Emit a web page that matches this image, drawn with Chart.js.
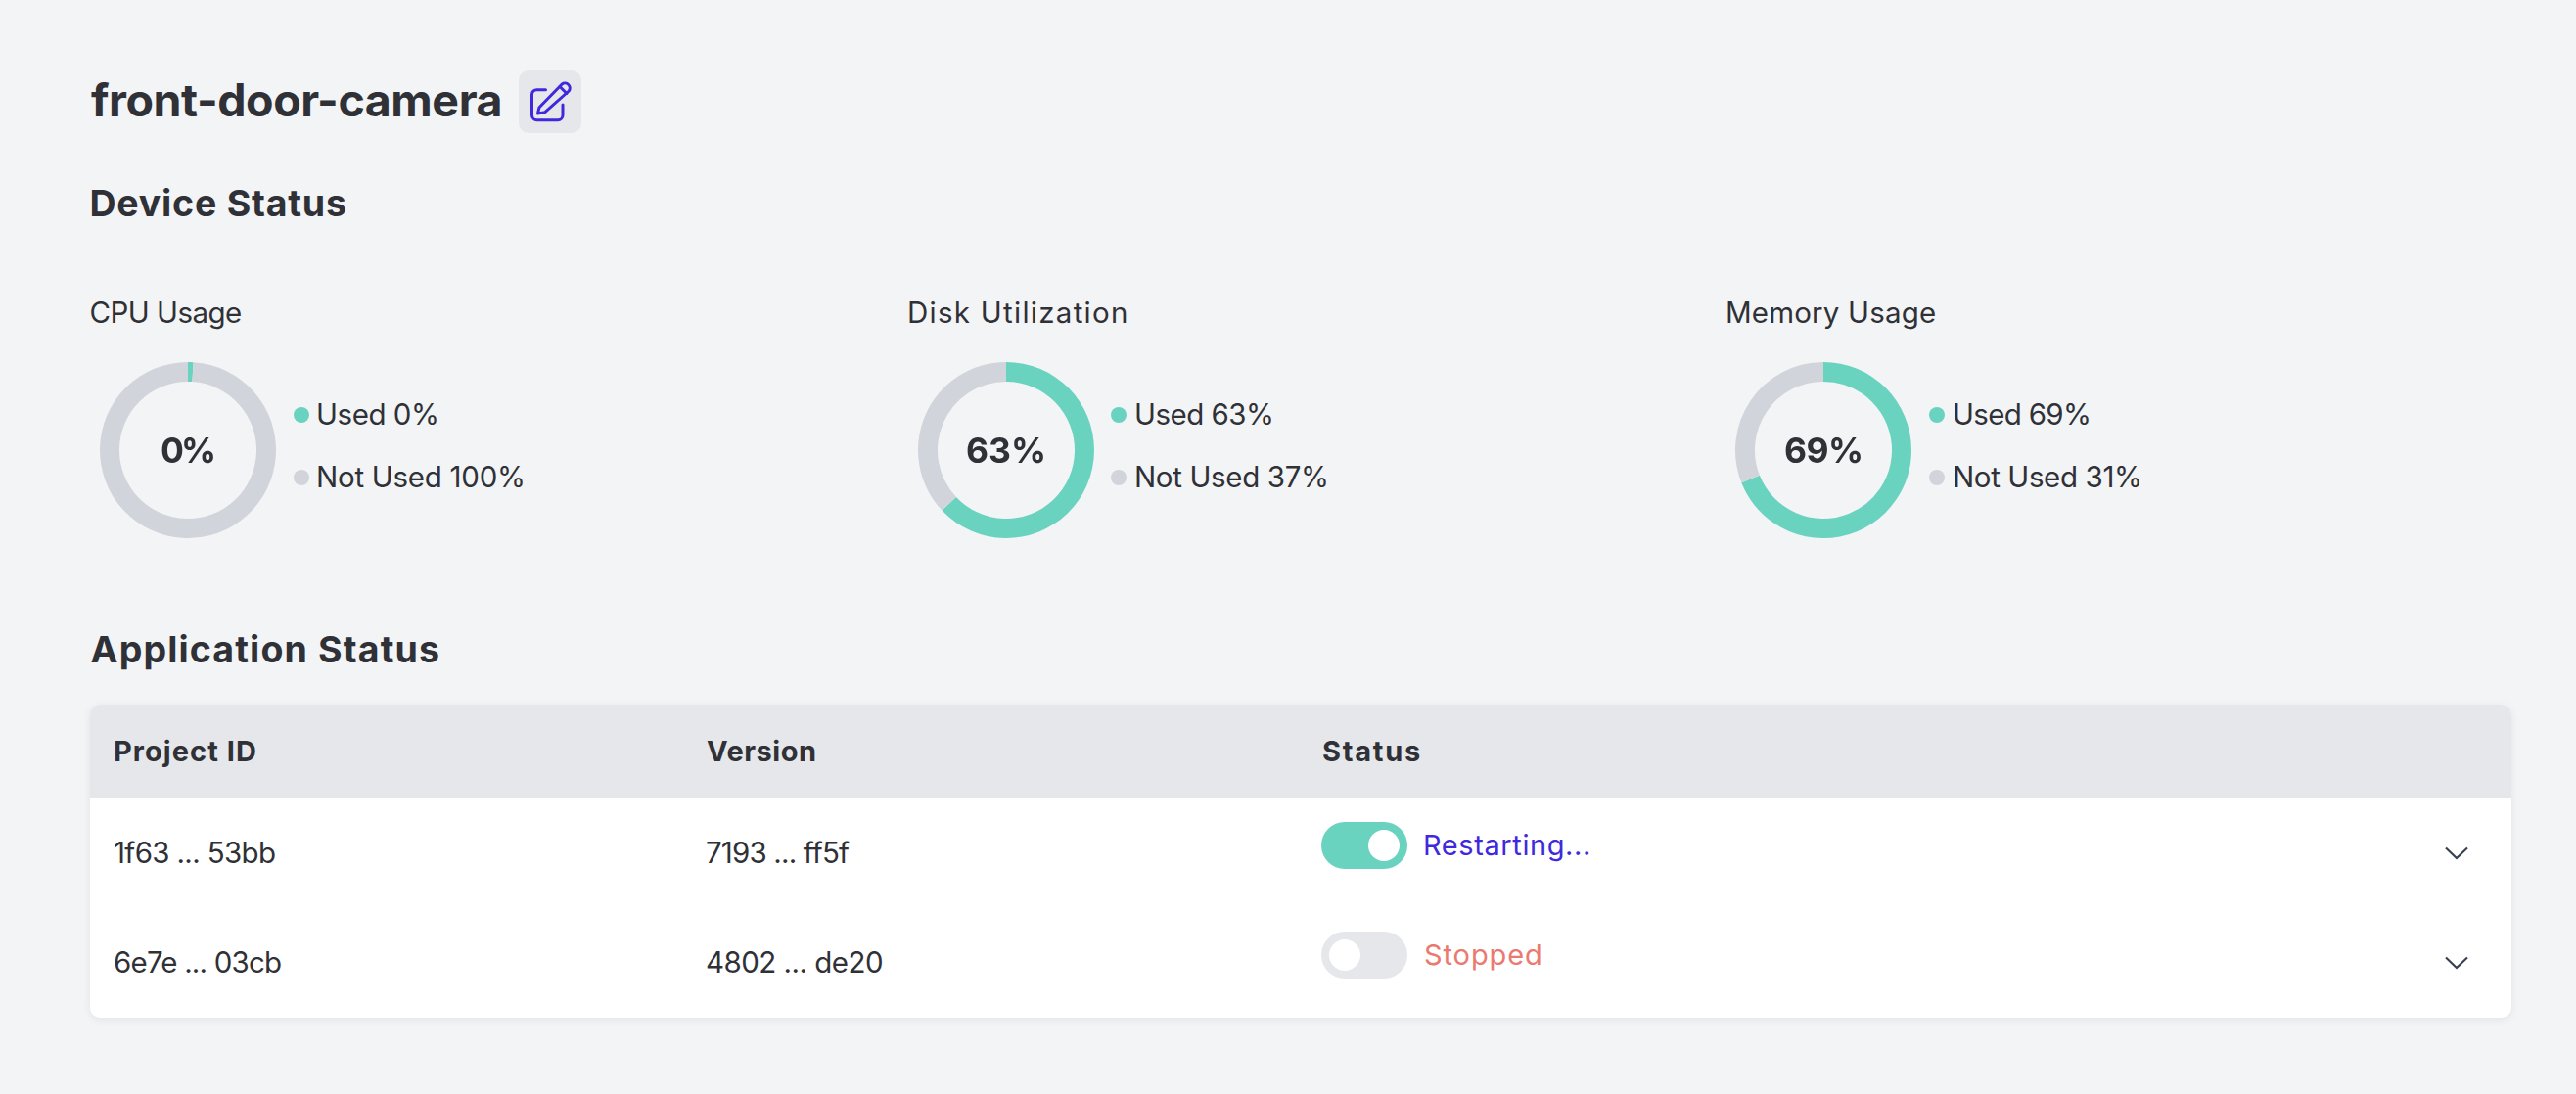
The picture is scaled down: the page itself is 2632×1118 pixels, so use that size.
<!DOCTYPE html>
<html><head><meta charset="utf-8">
<script src="https://cdn.jsdelivr.net/npm/chart.js@4"></script>
<style>
html,body{margin:0;padding:0;width:2632px;height:1118px;background:#f3f4f6;overflow:hidden}
#stage{position:relative;width:2632px;height:1118px;overflow:hidden}
.t{position:absolute;white-space:pre;line-height:1.2}
.abs{position:absolute}
#btn{left:530px;top:72px;width:64px;height:64px;border-radius:10px;background:#e5e7eb}
#card{left:92px;top:720px;width:2474px;height:320px;border-radius:10px;background:#fff;box-shadow:0 2px 8px rgba(0,0,0,.07);overflow:hidden}
#head{left:0;top:0;width:100%;height:96px;background:#e5e7eb}
.dot{width:16px;height:16px;border-radius:50%}
.tog{left:1350px;width:88px;height:48px;border-radius:24px}
.knob{width:32px;height:32px;border-radius:50%;background:#fff}
canvas{position:absolute}
</style></head>
<body><div id="stage"></div>
<script>
const pageTitle = 'front-door-camera';
const sectionTitles = ['Device Status', 'Application Status'];
const chartTitles = ['CPU Usage', 'Disk Utilization', 'Memory Usage'];
const sliceLabels = ['Used', 'Not Used'];
const usedSlices = [1, 63, 69];
const notUsedSlices = [99, 37, 31];
const usedShown = [0, 63, 69];
const notUsedShown = [100, 37, 31];
const tableHeads = ['Project ID', 'Version', 'Status'];
const projectIds = ['1f63 ... 53bb', '6e7e ... 03cb'];
const versions = ['7193 ... ff5f', '4802 ... de20'];
const statuses = ['Restarting...', 'Stopped'];

const FONT = 'Inter';
const INK = '#2f3136', GREEN = '#6ad3bf', GREY = '#d1d5db', INDIGO = '#4029dd', RED = '#ea7a70';
const stage = document.getElementById('stage');
const mc = document.createElement('canvas').getContext('2d');

function place(text, x, right, baseline, size, weight, color) {
  mc.font = `${weight} ${size}px ${FONT}`;
  const m = mc.measureText(text);
  const ink = m.actualBoundingBoxLeft + m.actualBoundingBoxRight;
  const ls = (right - x - ink) / (text.length - 1);
  const s = document.createElement('span');
  s.className = 't';
  s.textContent = text;
  s.style.cssText = `left:${x + m.actualBoundingBoxLeft}px;top:0;font:${weight} ${size}px ${FONT};line-height:1.2;color:${color};letter-spacing:${ls}px`;
  stage.appendChild(s);
  const probe = document.createElement('i');
  probe.style.cssText = 'display:inline-block;width:0;height:0';
  s.appendChild(probe);
  const off = probe.getBoundingClientRect().bottom - s.getBoundingClientRect().top;
  s.removeChild(probe);
  s.style.top = (baseline - off) + 'px';
}
function box(id, cls, css, parent) {
  const d = document.createElement('div');
  if (id) d.id = id;
  d.className = 'abs ' + (cls || '');
  if (css) d.style.cssText = css;
  (parent || stage).appendChild(d);
  return d;
}

/* headings */
place(pageTitle, 93, 511.5, 119, 46.5, 700, INK);
const btn = box('btn');
btn.innerHTML = `<svg width="64" height="64" viewBox="0 2 64 64" style="position:absolute;left:0;top:0" fill="none" stroke="${INDIGO}" stroke-width="3" stroke-linecap="round" stroke-linejoin="round"><path d="M27.5 21.7H18.5a5 5 0 0 0-5 5V47.7a5 5 0 0 0 5 5H40a5 5 0 0 0 5-5V37"/><path d="M19.5 46L21 39.7 44.2 16a5 5 0 0 1 7 7L26.8 44.6z"/><path d="M42 18.5l7 7"/></svg>`;
place(sectionTitles[0], 93.5, 353, 220.5, 37.5, 700, INK);
place(sectionTitles[1], 92.5, 448, 677, 37.5, 700, INK);

/* donuts */
const titleX = [[92.5, 246], [929, 1151], [1765, 1977]];
const centerX = [192, 1027.5, 1863];
const dotX = [308, 1143, 1979];
const legendX = [[325, 446, 534], [1161, 1299, 1355], [1997, 2134, 2186]];
const centerSpan = [[165, 218], [988, 1066], [1824, 1901]];
chartTitles.forEach((title, i) => {
  place(title, titleX[i][0], titleX[i][1], 330, 29.5, 400, INK);
  const c = document.createElement('canvas');
  c.width = 180; c.height = 180;
  c.style.cssText = `left:${centerX[i] - 90}px;top:370px;width:180px;height:180px`;
  stage.appendChild(c);
  new Chart(c, {
    type: 'doughnut',
    data: { labels: sliceLabels, datasets: [{ data: [usedSlices[i], notUsedSlices[i]], backgroundColor: [GREEN, GREY], borderWidth: 0, hoverOffset: 0 }] },
    options: { responsive: false, animation: false, cutout: '77.8%', layout: { padding: 0 }, plugins: { legend: { display: false }, tooltip: { enabled: false } } }
  });
  place(usedShown[i] + '%', centerSpan[i][0], centerSpan[i][1], 473, 35.5, 700, INK);
  box(null, 'dot', `left:${dotX[i] - 8}px;top:416px;background:${GREEN}`);
  box(null, 'dot', `left:${dotX[i] - 8}px;top:480px;background:${GREY}`);
  place(`${sliceLabels[0]} ${usedShown[i]}%`, legendX[i][0], legendX[i][1], 434, 29.5, 400, INK);
  place(`${sliceLabels[1]} ${notUsedShown[i]}%`, legendX[i][0], legendX[i][2], 498, 29.5, 400, INK);
});

/* table */
const card = box('card');
box('head', '', '', card);
const headSpan = [[117, 261], [722, 833], [1352, 1451]];
tableHeads.forEach((h, i) => place(h, headSpan[i][0], headSpan[i][1], 778, 29, 700, INK));
const rowBase = [882, 993.5];
const idRight = [281, 287], verRight = [868, 901], statRight = [1624, 1574], statBase = [873.5, 986];
const togTop = [840, 952], knobX = [1398, 1358], togCol = [GREEN, '#e5e7eb'], statCol = [INDIGO, RED];
const chevY = [866, 978];
projectIds.forEach((p, i) => {
  place(p, 117, idRight[i], rowBase[i], 29.5, 400, INK);
  place(versions[i], 722, verRight[i], rowBase[i], 29.5, 400, INK);
  box(null, 'tog', `top:${togTop[i]}px;background:${togCol[i]}`);
  box(null, 'knob', `left:${knobX[i]}px;top:${togTop[i] + 8}px`);
  place(statuses[i], 1456, statRight[i], statBase[i], 29, 400, statCol[i]);
  const ch = box(null, '', `left:2497px;top:${chevY[i] - 2}px;width:26px;height:16px`);
  ch.innerHTML = '<svg width="26" height="16" viewBox="0 0 26 16" fill="none" stroke="#374151" stroke-width="2.2"><path d="M2 2.5L13 13 24 2.5"/></svg>';
});
</script></body></html>
